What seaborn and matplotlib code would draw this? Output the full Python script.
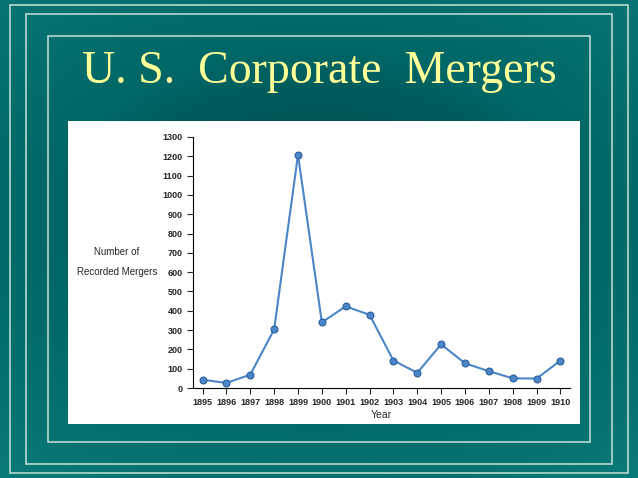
import numpy as np
import matplotlib.pyplot as plt
import seaborn as sns
from matplotlib.patches import Rectangle

years = [1895, 1896, 1897, 1898, 1899, 1900, 1901, 1902, 1903, 1904,
         1905, 1906, 1907, 1908, 1909, 1910]
mergers = [43, 26, 69, 303, 1208, 340, 423, 379, 142, 79,
           226, 128, 87, 50, 49, 142]

sns.set_style('white')
plt.rcParams['font.family'] = ['Liberation Sans', 'DejaVu Sans']

fig = plt.figure(figsize=(6.38, 4.78), dpi=100)

# teal background with darker middle
bg = fig.add_axes([0, 0, 1, 1], zorder=-2)
yy, xx = np.mgrid[0:1:200j, 0:1:200j]
r = np.sqrt((xx - 0.5) ** 2 + ((yy - 0.55) * 1.2) ** 2)
bg.imshow(r, cmap=sns.blend_palette(['#003c3c', '#006666', '#0a7a78'], as_cmap=True),
          extent=[0, 1, 0, 1], aspect='auto', origin='lower')
bg.set_xlim(0, 1)
bg.set_ylim(0, 1)
bg.axis('off')
frame_kw = dict(fill=False, ec='#b8d8d0', lw=1.2, transform=bg.transAxes)
bg.add_patch(Rectangle((0.04, 0.03), 0.92, 0.94, **frame_kw))
bg.add_patch(Rectangle((0.075, 0.075), 0.85, 0.85, **frame_kw))
bg.add_patch(Rectangle((0.015, 0.01), 0.97, 0.98, **frame_kw))
bg.add_patch(Rectangle((68 / 638, 1 - 424 / 478), 512 / 638, 303 / 478,
                       fc='white', ec='none', transform=bg.transAxes))

fig.text(0.5, 1 - 72 / 478, 'U. S.  Corporate  Mergers', ha='center', va='center',
         fontsize=33, color='#ffff99', family='Liberation Serif')

ax = fig.add_axes([193 / 638, 90 / 478, 377 / 638, 251 / 478])
ax.set_facecolor('none')
sns.lineplot(x=years, y=mergers, ax=ax, color='#4a86c8', lw=1.5,
             marker='o', markersize=5, markeredgecolor='#2a5a9a')
ax.set_xlim(1894.6, 1910.4)
ax.set_ylim(0, 1300)
ax.set_yticks(range(0, 1301, 100))
ax.set_xticks(years)
ax.tick_params(labelsize=6.5, length=4, width=0.8, direction='out', left=True, bottom=True)
for lab in ax.get_xticklabels() + ax.get_yticklabels():
    lab.set_fontweight('bold')
sns.despine(ax=ax)
for s in ['left', 'bottom']:
    ax.spines[s].set_color('black')
    ax.spines[s].set_linewidth(0.8)
ax.set_xlabel('Year', fontsize=7.5, labelpad=2)
fig.text(117 / 638, 1 - 262 / 478, 'Number of\nRecorded Mergers', ha='center',
         va='center', fontsize=7, linespacing=2.2)

fig.savefig('out.png', dpi=100)
